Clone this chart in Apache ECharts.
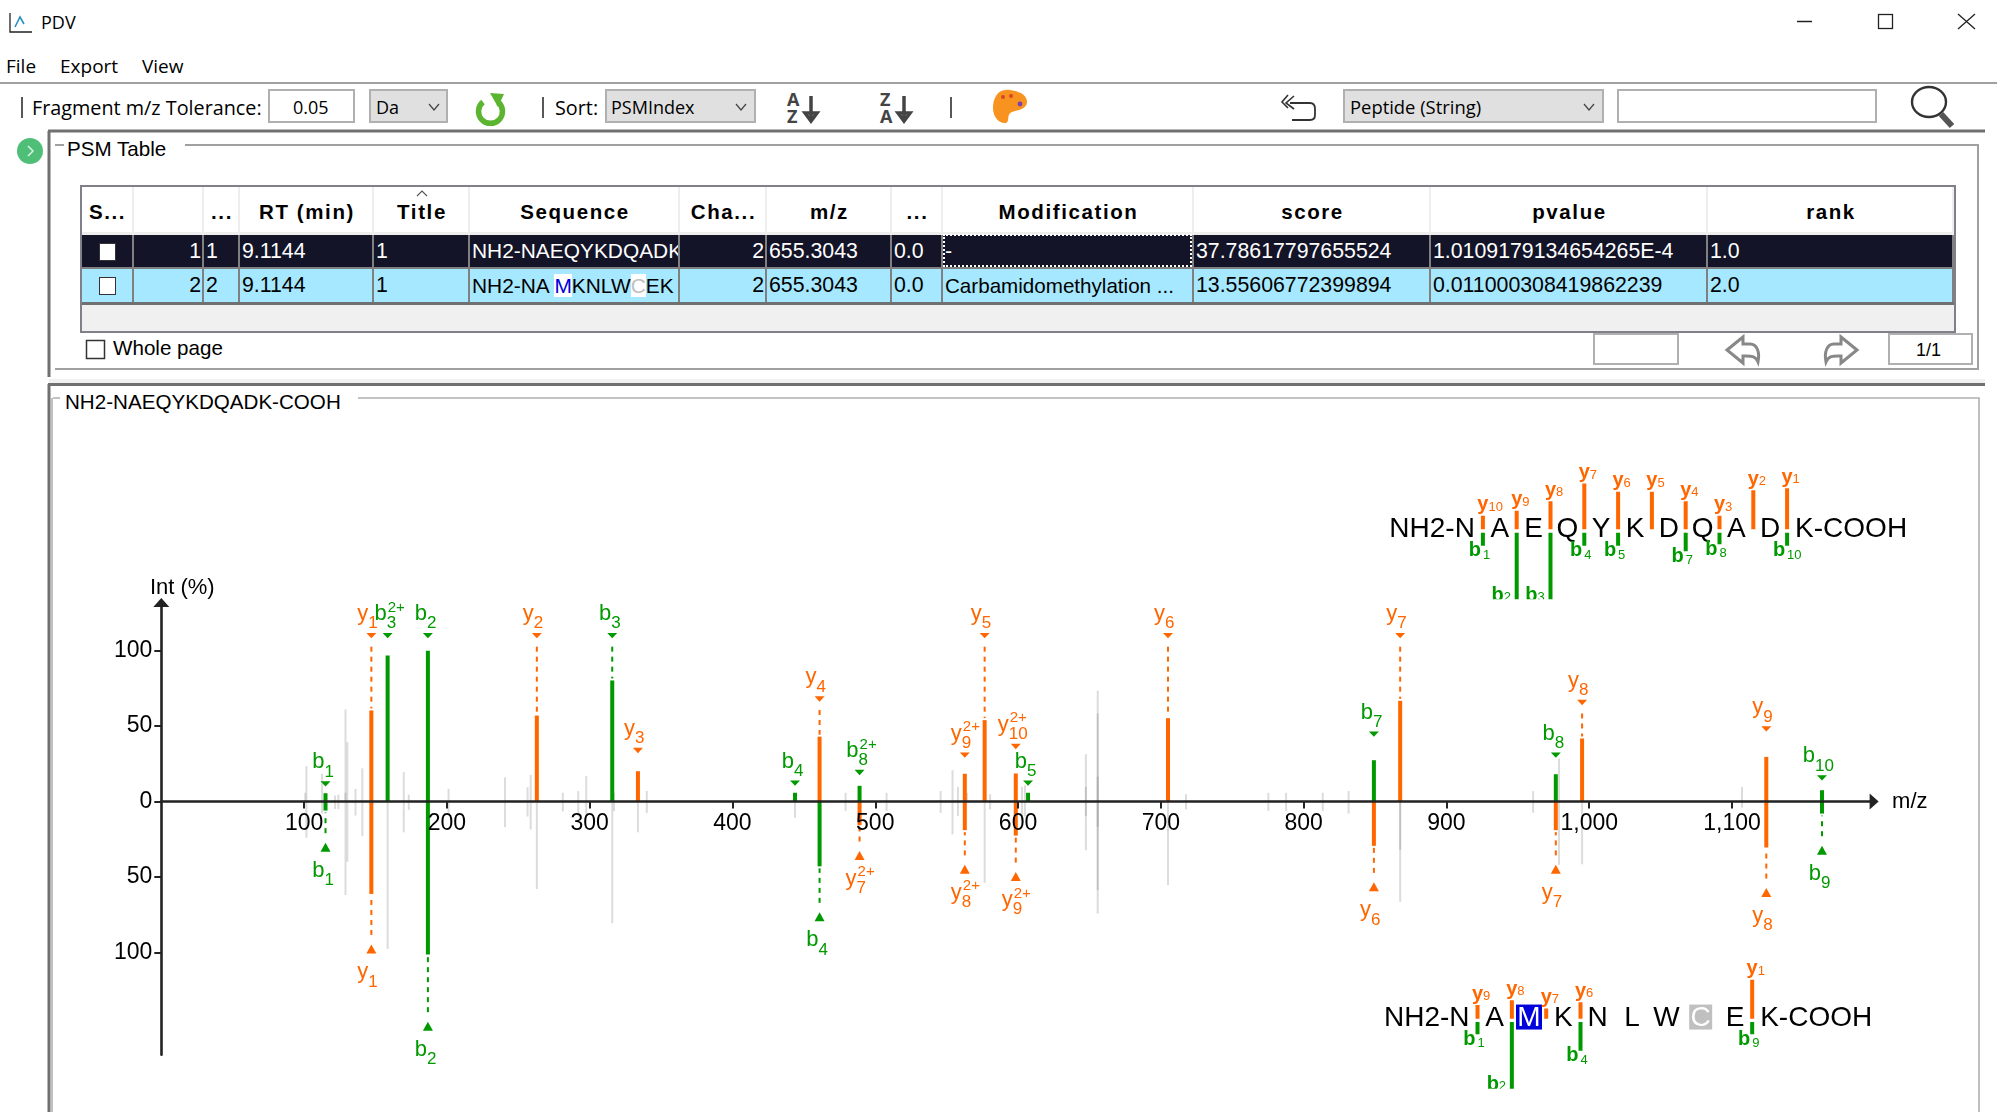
<!DOCTYPE html>
<html>
<head>
<meta charset="utf-8">
<title>PDV</title>
<script src="https://cdn.jsdelivr.net/npm/echarts@6/dist/echarts.min.js"></script>
<style>
html, body { margin: 0; padding: 0; background: #fff; width: 1997px; height: 1112px; overflow: hidden; }
.t { position: absolute; white-space: nowrap; line-height: 1; transform: translateY(-50%); font-family: "Open Sans", sans-serif; font-size: 19px; color: #000; }
.tb { font-size: 19.8px; }
.l { font-family: "Liberation Sans", sans-serif; font-size: 20.6px; }
.box { position: absolute; box-sizing: border-box; background: #fff; border: 2px solid #b0b0b0; }
.sel { background: #e0e0e0; }
#icons { position: absolute; left: 0; top: 0; z-index: 2; }
#psm { position: absolute; left: 80px; top: 185px; width: 1876px; height: 148px; box-sizing: border-box; border: 2px solid #80808a; background: #f0f0f0; overflow: hidden; }
#psm table { border-collapse: collapse; table-layout: fixed; width: 1872px; font-family: "Liberation Sans", sans-serif; font-size: 21.3px; margin-left: -2px; }
#psm th { height: 46px; padding: 6px 0 0 2px; background: #fff; border-right: 2px solid #eee; border-bottom: 3px solid #eee; font-size: 20.5px; letter-spacing: 1.6px; box-sizing: border-box; }
#psm td { height: 35px; padding: 1px 0 0 2px; border: 2px solid #808080; border-top: 0; box-sizing: border-box; white-space: nowrap; overflow: hidden; }
#psm tr.r1 td { background: #141428; color: #fff; }
#psm tr.r2 td { background: #a6e8ff; color: #000; border-bottom: 3px solid #707070; }
#psm td.num { text-align: right; padding: 1px 1px 0 0; }
#psm td.chk { padding: 0; text-align: center; }
#psm td.seq { font-size: 20.9px; }
#psm td.mod { font-size: 20.6px; }
#psm td.focus { outline: 2px dotted #fff; outline-offset: -3px; }
.cb { display: inline-block; width: 17px; height: 18px; box-sizing: border-box; border: 1.5px solid #333; background: #fff; vertical-align: middle; }
.hl { background: #fff; }
#chart { position: absolute; left: 0; top: 400px; width: 1997px; height: 712px; }
</style>
</head>
<body>
<svg id="icons" width="1997" height="1112" xmlns="http://www.w3.org/2000/svg" fill="none">
  <!-- window chrome and panel rules -->
  <path d="M10 13V32H32" stroke="#222" stroke-width="1.3"/>
  <path d="M15 27L20 17L24 24" stroke="#2a8fc0" stroke-width="1.6"/>
  <path d="M1797 21.5H1812" stroke="#222" stroke-width="1.5"/>
  <rect x="1878.5" y="14.5" width="14" height="14" stroke="#222" stroke-width="1.3"/>
  <path d="M1958 14L1975 29M1975 14L1958 29" stroke="#222" stroke-width="1.3"/>
  <path d="M0 83H1997" stroke="#a0a0a0" stroke-width="2"/>
  <path d="M22 97V118M543 97V118M951 97V118" stroke="#222" stroke-width="1.5"/>
  <path d="M48 131H1985M49 131V377M49 384V1112M48 384.5H1985" stroke="#707070" stroke-width="3"/>
  <rect x="49" y="379" width="1936" height="4" fill="#f0f0f0"/>
  <path d="M55 145H64M185 145H1978V369H55" stroke="#a0a0a0" stroke-width="2"/>
  <path d="M53 398H60M358 398H1979V1112M52 398V1112" stroke="#b0b0b0" stroke-width="1.6"/>
  <!-- toolbar icons -->
  <path d="M483 102A12 12 0 1 0 498 102" stroke="#5cb531" stroke-width="5.5"/>
  <path d="M490 93L504 94L498 107Z" fill="#5cb531"/>
  <circle cx="30" cy="151" r="13" fill="#4fbf78"/>
  <path d="M28 146L33 151L28 156" stroke="#d8f5e2" stroke-width="1.5"/>
  <path d="M811 96V120M805 113L811 121L817 113Z" stroke="#444" stroke-width="3.5"/>
  <path d="M904 96V120M898 113L904 121L910 113Z" stroke="#444" stroke-width="3.5"/>
  <path d="M1010 90C998 88 993 98 993 108C993 118 1000 124 1006 123C1010 122 1006 114 1012 112C1020 110 1027 108 1027 102C1027 94 1018 91 1010 90Z" fill="#f7931e"/>
  <circle cx="1003" cy="97" r="2" fill="#d8462a"/><circle cx="1011" cy="96" r="2" fill="#d8462a"/><circle cx="1020" cy="104" r="2.4" fill="#7a3fb0"/>
  <path d="M1290 103H1310Q1315 103 1315 109V115Q1315 120 1310 120H1292" stroke="#333" stroke-width="1.8"/>
  <path d="M1294 96L1286 103L1294 109M1288 95L1282 102L1288 108" stroke="#333" stroke-width="1.6"/>
  <ellipse cx="1929" cy="102" rx="17" ry="15" stroke="#333" stroke-width="2.4"/>
  <path d="M1941 114L1952 126" stroke="#555" stroke-width="6"/>
  <!-- chevrons in the combo boxes -->
  <path d="M429 104L434 110L439 104M736 104L741 110L746 104M1584 104L1589 110L1594 104" stroke="#444" stroke-width="1.2"/>
  <path d="M417 196L422 191L427 196" stroke="#555" stroke-width="1.1"/>
  <!-- paging arrows -->
  <path d="M1727 350L1743 337V344H1750C1757 344 1760 352 1758 362C1755 355 1750 356 1743 356V363Z" stroke="#888" stroke-width="3"/>
  <path d="M1857 350L1841 337V344H1834C1827 344 1824 352 1826 362C1829 355 1834 356 1841 356V363Z" stroke="#888" stroke-width="3"/>
  <rect x="86.5" y="340.5" width="18" height="18" stroke="#333" stroke-width="1.5"/>
</svg>

<div class="t" style="left:41px;top:22px;font-size:18px">PDV</div>
<div class="t" style="left:6px;top:66px">File</div>
<div class="t" style="left:60px;top:66px">Export</div>
<div class="t" style="left:142px;top:66px">View</div>
<div class="t tb" style="left:32px;top:108px">Fragment m/z Tolerance:</div>
<div class="box" style="left:268px;top:89px;width:87px;height:34px"></div>
<div class="t" style="left:293px;top:107px;font-size:18px">0.05</div>
<div class="box sel" style="left:369px;top:89px;width:79px;height:34px"></div>
<div class="t" style="left:376px;top:107px;font-size:18px">Da</div>
<div class="t tb" style="left:555px;top:108px">Sort:</div>
<div class="box sel" style="left:605px;top:89px;width:151px;height:34px"></div>
<div class="t" style="left:611px;top:107px;font-size:18px">PSMIndex</div>
<div class="t" style="left:787px;top:99px;font-size:18px;font-weight:bold;color:#444">A</div>
<div class="t" style="left:787px;top:116px;font-size:18px;font-weight:bold;color:#444">Z</div>
<div class="t" style="left:880px;top:99px;font-size:18px;font-weight:bold;color:#444">Z</div>
<div class="t" style="left:880px;top:116px;font-size:18px;font-weight:bold;color:#444">A</div>
<div class="box sel" style="left:1343px;top:89px;width:261px;height:34px"></div>
<div class="t" style="left:1350px;top:107px;font-size:18.4px">Peptide (String)</div>
<div class="box" style="left:1617px;top:89px;width:260px;height:34px"></div>

<div class="t l" style="left:67px;top:149px">PSM Table</div>
<div class="t l" style="left:65px;top:402px">NH2-NAEQYKDQADK-COOH</div>

<div id="psm">
  <table>
    <colgroup>
      <col style="width:52px"><col style="width:70px"><col style="width:36px"><col style="width:134px">
      <col style="width:96px"><col style="width:210px"><col style="width:87px"><col style="width:125px">
      <col style="width:51px"><col style="width:251px"><col style="width:237px"><col style="width:277px"><col style="width:246px">
    </colgroup>
    <tr>
      <th>S...</th><th></th><th>...</th><th>RT (min)</th><th>Title</th><th>Sequence</th><th>Cha...</th>
      <th>m/z</th><th>...</th><th>Modification</th><th>score</th><th>pvalue</th><th>rank</th>
    </tr>
    <tr class="r1">
      <td class="chk"><span class="cb"></span></td><td class="num">1</td><td>1</td><td>9.1144</td><td>1</td>
      <td class="seq">NH2-NAEQYKDQADK-COOH</td><td class="num">2</td><td>655.3043</td><td>0.0</td><td class="focus">-</td>
      <td>37.78617797655524</td><td>1.0109179134654265E-4</td><td>1.0</td>
    </tr>
    <tr class="r2">
      <td class="chk"><span class="cb"></span></td><td class="num">2</td><td>2</td><td>9.1144</td><td>1</td>
      <td class="seq">NH2-NA <span class="hl" style="color:#0000dd">M</span>KNLW<span class="hl" style="color:#c0c0c0">C</span>EK</td>
      <td class="num">2</td><td>655.3043</td><td>0.0</td><td class="mod">Carbamidomethylation ...</td>
      <td>13.55606772399894</td><td>0.011000308419862239</td><td>2.0</td>
    </tr>
  </table>
</div>

<div class="t l" style="left:113px;top:348px">Whole page</div>
<div class="box" style="left:1593px;top:333px;width:86px;height:32px"></div>
<div class="box" style="left:1888px;top:333px;width:85px;height:32px"></div>
<div class="t l" style="left:1916px;top:350px;font-size:18px">1/1</div>

<div id="chart"></div>

<script>
// ---- spectrum 1 (upper half), annotated peaks
var topYMz = [147.1, 263, 333.8, 461, 562.7, 576.6, 598.4, 705, 867.6, 995, 1124];
var topYInt = [60.4, 57, 20.1, 43, 18.4, 54, 18.6, 55.3, 66.8, 41.8, 29.6];
var topYTip = [110, 110, 33.8, 68, 30.8, 110, 36.5, 110, 110, 65.7, 48.2];
var topYNum = ['1', '2', '3', '4', '9', '5', '10', '6', '7', '8', '9'];
var topYCharge = ['', '', '', '', '2+', '', '2+', '', '', '', ''];

var topBMz = [115, 158.5, 186.7, 315.8, 443.8, 489, 607, 849.2, 976.6, 1163];
var topBInt = [5.5, 96.9, 100, 80.3, 5.8, 10.4, 5.8, 27.4, 18.1, 7.5];
var topBTip = [11.7, 110, 110, 110, 12.2, 19.2, 12.2, 44.7, 30.8, 15.7];
var topBNum = ['1', '3', '2', '3', '4', '8', '5', '7', '8', '10'];
var topBCharge = ['', '2+', '', '', '', '2+', '', '', '', ''];

// ---- spectrum 2 (mirrored), annotated peaks
var botYMz = [147.1, 489, 562.7, 598.4, 849.2, 976.6, 1124];
var botYInt = [-61.3, -15.7, -19, -22.6, -29.4, -19, -30.5];
var botYTip = [-97.8, -35.8, -45, -49.8, -56.6, -45, -60.4];
var botYNum = ['1', '7', '8', '9', '6', '7', '8'];
var botYCharge = ['', '2+', '2+', '2+', '', '', ''];

var botBMz = [115, 186.7, 461, 1163];
var botBInt = [-6, -101.5, -43, -8];
var botBTip = [-30.3, -149, -76.5, -32.3];
var botBNum = ['1', '2', '4', '9'];
var botBCharge = ['', '', '', ''];

// ---- unmatched peaks
var grayTopMz = [100.8, 101.6, 112.6, 121.7, 124, 129, 129, 130.3, 136, 140.8, 169.8, 173.3, 201.2, 240.7, 256.5, 258.7, 281.2, 292, 297.6, 317, 340, 443.8, 479.2, 507.9, 545.8, 554.1, 557.9, 564.3, 580.4, 602.7, 604.8, 647.5, 647.5, 655.8, 655.8, 655.8, 717.6, 775.3, 787.7, 813.4, 831.5, 960.7, 978.8, 1107];
var grayTopInt = [5.8, 23.5, 18.4, 4, 4.6, 61, 5.8, 39.4, 8.4, 22, 19.5, 4.6, 8.4, 16, 9.5, 17.7, 5.8, 6.9, 17, 5.8, 7, 5.8, 5.8, 5.8, 7, 20.8, 9.7, 5.8, 4.9, 9.7, 10.8, 31.4, 9.7, 73.5, 58.4, 16.4, 4.9, 5.8, 5.8, 5.8, 7, 6.9, 28.5, 9.7];
var grayBotMz = [101.6, 112.6, 121.7, 124, 129, 130.3, 136, 140.8, 158.5, 169.8, 173.3, 201.2, 240.7, 256.5, 258.7, 263, 281.2, 292, 297.6, 315.8, 317, 333.8, 340, 443.8, 479.2, 507.9, 545.8, 554.1, 557.9, 576.6, 580.4, 602.7, 604.8, 647.5, 647.5, 655.8, 655.8, 655.8, 705, 717.6, 775.3, 787.7, 813.4, 831.5, 867.6, 867.6, 960.7, 978.8, 995, 1107];
var grayBotInt = [-24, -8, -5, -5, -62, -40, -9.3, -23, -97.8, -20.4, -5.5, -8, -17, -10, -18.6, -58, -6.6, -10, -10.4, -80.8, -6.4, -20.4, -7.7, -10.8, -6.2, -6.2, -7.5, -21.7, -9.7, -54, -5.3, -12.4, -10, -32.3, -9.7, -74.3, -58.8, -16.8, -55.5, -5.3, -6.2, -6.2, -6.2, -8, -66.6, -32, -7.5, -42, -41.6, -4];

// ---- axes
var xTicks = [100, 200, 300, 400, 500, 600, 700, 800, 900, 1000, 1100];
var yTicks = [-100, -50, 0, 50, 100];
var yMin = -168;
var yMax = 132;

// ---- matched-fragment diagrams, one value per gap between residues
var seqTopResidues = ['NH2-N', 'A', 'E', 'Q', 'Y', 'K', 'D', 'Q', 'A', 'D', 'K-COOH'];
var seqTopYNum = ['10', '9', '8', '7', '6', '5', '4', '3', '2', '1'];
var seqTopYInt = [20, 27, 41, 67, 55, 55, 41, 20, 57, 60];
var seqTopBNum = ['1', '2', '3', '4', '5', '', '7', '8', '', '10'];
var seqTopBInt = [19, 100, 100, 19, 19, 0, 27, 17, 0, 19];

var seqBotResidues = ['NH2-N', 'A', 'M', 'K', 'N', 'L', 'W', 'C', 'E', 'K-COOH'];
var seqBotYNum = ['9', '8', '7', '6', '', '', '', '', '1'];
var seqBotYInt = [20, 27, 15, 24, 0, 0, 0, 0, 57];
var seqBotBNum = ['1', '2', '', '4', '', '', '', '', '9'];
var seqBotBInt = [18, 100, 0, 42, 0, 0, 0, 0, 18];
var seqBotMods = {M: '#0000dd', C: '#c0c0c0'};

var ORANGE = '#ff6600';
var GREEN = '#009900';
var FONT = '"Liberation Sans", Arial, sans-serif';
var PLOT_HEIGHT = 452.3;

// text placed by its baseline, the way the original lays it out
function baseText(x, baseline, str, size, color, align, bold) {
    return {
        type: 'text',
        silent: true,
        style: {
            x: x,
            y: baseline - size * 0.3465,
            text: str,
            fill: color,
            font: (bold ? 'bold ' : '') + size + 'px ' + FONT,
            align: align,
            verticalAlign: 'middle'
        }
    };
}

function grayPeaks(name, mz, ints) {
    return {
        name: name,
        type: 'custom',
        z: 1,
        silent: true,
        data: mz.map(function (m, i) { return [m, ints[i]]; }),
        encode: {x: 0, y: 1},
        renderItem: function (params, api) {
            var a = api.coord([api.value(0), 0]);
            var b = api.coord([api.value(0), api.value(1)]);
            return {
                type: 'line',
                shape: {x1: a[0], y1: a[1], x2: b[0], y2: b[1]},
                style: {stroke: 'rgba(110,110,110,0.24)', lineWidth: 2}
            };
        }
    };
}

function ionPeaks(name, letter, color, mz, ints, tips, nums, charges) {
    return {
        name: name,
        type: 'custom',
        z: 2,
        silent: true,
        data: mz.map(function (m, i) { return [m, ints[i], tips[i]]; }),
        encode: {x: 0, y: 1},
        renderItem: function (params, api) {
            var i = params.dataIndex;
            var base = api.coord([api.value(0), 0]);
            var peak = api.coord([api.value(0), api.value(1)]);
            var tip = api.coord([api.value(0), api.value(2)]);
            var x = base[0];
            var up = api.value(1) > 0;
            var kids = [{
                type: 'line',
                shape: {x1: x, y1: base[1], x2: x, y2: peak[1]},
                style: {stroke: color, lineWidth: 4}
            }];
            // leader only where the flag stands clear of the peak
            if (Math.abs(peak[1] - tip[1]) >= 30) {
                kids.push({
                    type: 'line',
                    shape: {x1: x, y1: tip[1] + (up ? 11 : -14), x2: x, y2: peak[1] + (up ? -2 : 2)},
                    style: {stroke: color, lineWidth: 2, lineDash: [5, 5]}
                });
            }
            kids.push({
                type: 'polygon',
                shape: {
                    points: up
                        ? [[x - 5, tip[1] - 2.7], [x + 5, tip[1] - 2.7], [x, tip[1] + 2.7]]
                        : [[x - 5, tip[1] + 4.5], [x + 5, tip[1] + 4.5], [x, tip[1] - 4.5]]
                },
                style: {fill: color}
            });
            var lx = x + (nums[i].length > 1 ? -7 : (letter === 'y' ? -3 : -1));
            var by = tip[1] + (up ? -14 : 31);
            kids.push(baseText(lx, by, letter, 22, color, 'right'));
            kids.push(baseText(lx, by + 8, nums[i], 17, color, 'left'));
            if (charges[i]) {
                kids.push(baseText(lx + 1, by - 9, charges[i], 15, color, 'left'));
            }
            return {type: 'group', children: kids};
        }
    };
}

function seqLetters(axis, residues, mods) {
    var last = residues.length - 2;
    return {
        type: 'custom',
        xAxisIndex: axis,
        yAxisIndex: axis,
        z: 2,
        silent: true,
        data: residues.map(function (r, i) { return [Math.min(Math.max(i - 0.5, 0), last), 0]; }),
        encode: {x: 0, y: 1},
        renderItem: function (params, api) {
            var i = params.dataIndex;
            var p = api.coord([api.value(0), 0]);
            var baseline = p[1] + 7.7;
            if (i === 0) {
                return baseText(p[0] - 8, baseline, residues[i], 28, '#000', 'right');
            }
            if (i === residues.length - 1) {
                return baseText(p[0] + 8, baseline, residues[i], 28, '#000', 'left');
            }
            var mod = mods && mods[residues[i]];
            if (!mod) {
                return baseText(p[0], baseline, residues[i], 28, '#000', 'center');
            }
            var w = residues[i] === 'M' ? 26 : 23;
            return {
                type: 'group',
                children: [
                    {
                        type: 'rect',
                        shape: {x: p[0] - w / 2, y: baseline - 23.5, width: w, height: 25},
                        style: {fill: mod}
                    },
                    baseText(p[0], baseline, residues[i], 28, '#fff', 'center')
                ]
            };
        }
    };
}

function seqBars(axis, yNum, yInt, bNum, bInt) {
    return {
        type: 'custom',
        xAxisIndex: axis,
        yAxisIndex: axis,
        z: 3,
        clip: true,
        silent: true,
        data: yInt.map(function (v, i) { return [i, v, -bInt[i]]; }),
        encode: {x: 0, y: 1},
        renderItem: function (params, api) {
            var i = params.dataIndex;
            var p0 = api.coord([api.value(0), 0]);
            var x = p0[0];
            var kids = [];
            if (api.value(1)) {
                var top = api.coord([api.value(0), api.value(1)])[1] - 1.7;
                kids.push({
                    type: 'line',
                    shape: {x1: x, y1: p0[1] - 1.7, x2: x, y2: top},
                    style: {stroke: ORANGE, lineWidth: 4}
                });
                kids.push(baseText(x, top - 4, 'y', 20, ORANGE, 'center', true));
                kids.push(baseText(x + 5.5, top - 4, yNum[i], 13, ORANGE, 'left'));
            }
            if (api.value(2)) {
                var bottom = api.coord([api.value(0), api.value(2)])[1] + 1.7;
                var full = api.value(2) <= -100;
                kids.push({
                    type: 'line',
                    shape: {x1: x, y1: p0[1] + 1.7, x2: x, y2: bottom},
                    style: {stroke: GREEN, lineWidth: 4}
                });
                if (full) {
                    kids.push(baseText(x - 13, bottom + 1, 'b', 20, GREEN, 'right', true));
                    kids.push(baseText(x - 13, bottom + 1, bNum[i], 13, GREEN, 'left'));
                } else {
                    kids.push(baseText(x - 2, bottom + 12, 'b', 20, GREEN, 'right', true));
                    kids.push(baseText(x, bottom + 14, bNum[i], 13, GREEN, 'left'));
                }
            }
            return {type: 'group', children: kids};
        }
    };
}

function hiddenX(gridIndex, gaps) {
    return {gridIndex: gridIndex, type: 'value', show: false, min: -4, max: gaps + 4};
}
function hiddenY(gridIndex) {
    return {gridIndex: gridIndex, type: 'value', show: false, min: -100, max: 100};
}

var option = {
    animation: false,
    textStyle: {fontFamily: FONT},
    grid: [
        {left: 161.3, top: 202.5, width: 1712.8, height: PLOT_HEIGHT},
        {left: 1347.7, top: 62.7, width: 574.6, height: 136.6},
        {left: 1340.2, top: 552, width: 549.3, height: 136.7}
    ],
    xAxis: [
        {
            type: 'value',
            min: 0,
            max: 1199.5,
            z: 4,
            // labels must ride on the zero line, so lift the whole axis there
            offset: -PLOT_HEIGHT * (0 - yMin) / (yMax - yMin),
            splitLine: {show: false},
            axisLine: {
                onZero: false,
                lineStyle: {color: '#222', width: 2.6},
                symbol: ['none', 'triangle'],
                symbolSize: [16, 9]
            },
            axisTick: {length: 7, lineStyle: {color: '#222', width: 2}, customValues: xTicks},
            axisLabel: {
                color: '#000',
                fontSize: 23,
                margin: 11,
                customValues: xTicks,
                formatter: function (v) { return v.toLocaleString('en-US'); }
            },
            name: 'm/z',
            nameLocation: 'end',
            nameGap: 18,
            nameTextStyle: {color: '#000', fontSize: 22}
        },
        hiddenX(1, seqTopYInt.length - 1),
        hiddenX(2, seqBotYInt.length - 1)
    ],
    yAxis: [
        {
            type: 'value',
            min: yMin,
            max: yMax,
            z: 4,
            splitLine: {show: false},
            axisLine: {
                onZero: false,
                show: true,
                lineStyle: {color: '#222', width: 2.6},
                symbol: ['none', 'triangle'],
                symbolSize: [16, 9]
            },
            axisTick: {show: true, length: 7, lineStyle: {color: '#222', width: 2}, customValues: yTicks},
            axisLabel: {
                color: '#000',
                fontSize: 23,
                margin: 9,
                customValues: yTicks,
                formatter: function (v) { return String(Math.abs(v)); }
            },
            name: 'Int (%)',
            nameLocation: 'end',
            nameGap: 4,
            nameTextStyle: {color: '#000', fontSize: 22, align: 'center', padding: [0, 0, 0, 42]}
        },
        hiddenY(1),
        hiddenY(2)
    ],
    series: [
        grayPeaks('unmatched 1', grayTopMz, grayTopInt),
        grayPeaks('unmatched 2', grayBotMz, grayBotInt),
        ionPeaks('y ions 1', 'y', ORANGE, topYMz, topYInt, topYTip, topYNum, topYCharge),
        ionPeaks('b ions 1', 'b', GREEN, topBMz, topBInt, topBTip, topBNum, topBCharge),
        ionPeaks('y ions 2', 'y', ORANGE, botYMz, botYInt, botYTip, botYNum, botYCharge),
        ionPeaks('b ions 2', 'b', GREEN, botBMz, botBInt, botBTip, botBNum, botBCharge),
        seqLetters(1, seqTopResidues),
        seqBars(1, seqTopYNum, seqTopYInt, seqTopBNum, seqTopBInt),
        seqLetters(2, seqBotResidues, seqBotMods),
        seqBars(2, seqBotYNum, seqBotYInt, seqBotBNum, seqBotBInt)
    ]
};

var myChart = echarts.init(document.getElementById('chart'));
myChart.setOption(option);
</script>
</body>
</html>
